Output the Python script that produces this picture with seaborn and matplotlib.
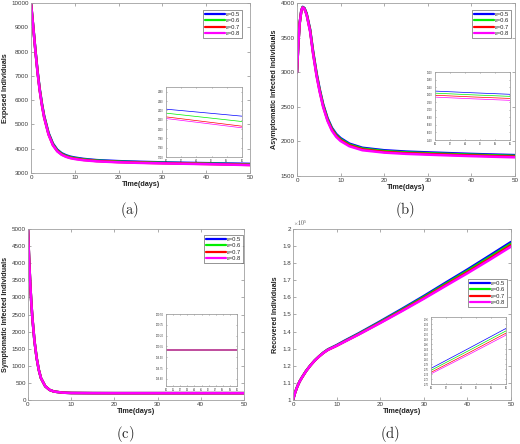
import pandas as pd
import matplotlib
matplotlib.use('Agg')
import matplotlib.pyplot as plt
import seaborn as sns
from matplotlib.ticker import FuncFormatter, MultipleLocator, MaxNLocator

# --- values ---
eps_labels = ['ε=0.5', 'ε=0.6', 'ε=0.7', 'ε=0.8']
line_colors = ['#0000ff', '#00ee00', '#ff0000', '#ff00ff']

# (a) exposed individuals
t_exposed = [0, 0.5, 1, 1.5, 2, 2.5, 3, 4, 5, 6, 7, 8, 9, 10, 12, 15, 20, 25, 30, 35, 40, 45, 50]
exposed_05 = [10000, 9055, 8080, 7190, 6450, 5855, 5355, 4655, 4215, 3960, 3815, 3730, 3672, 3635, 3580, 3530, 3488, 3460, 3438, 3420, 3405, 3390, 3375]
exposed_06 = [10000, 9045, 8060, 7165, 6420, 5825, 5325, 4625, 4185, 3935, 3790, 3705, 3650, 3612, 3560, 3510, 3468, 3442, 3420, 3403, 3388, 3370, 3352]
exposed_07 = [10000, 9035, 8040, 7140, 6395, 5795, 5295, 4595, 4155, 3905, 3765, 3680, 3625, 3590, 3540, 3492, 3450, 3425, 3404, 3388, 3372, 3352, 3332]
exposed_08 = [10000, 9030, 8030, 7130, 6380, 5780, 5280, 4580, 4140, 3890, 3750, 3665, 3610, 3575, 3525, 3480, 3440, 3415, 3395, 3380, 3365, 3345, 3325]

# (b) asymptomatic infected individuals
t_asym = [0, 0.3, 0.6, 1, 1.3, 1.7, 2.2, 3, 3.7, 4.5, 5.2, 6, 7, 8, 9, 10, 12, 15, 20, 25, 30, 35, 40, 45, 50]
asym_05 = [3000, 3402, 3704, 3896, 3944, 3928, 3850, 3620, 3298, 2982, 2757, 2537, 2337, 2197, 2107, 2047, 1968, 1908, 1872, 1853, 1841, 1830, 1819, 1810, 1802]
asym_06 = [3000, 3401, 3702, 3893, 3940, 3923, 3843, 3610, 3285, 2967, 2742, 2522, 2322, 2182, 2092, 2032, 1955, 1896, 1860, 1841, 1829, 1818, 1808, 1799, 1791]
asym_07 = [3000, 3400, 3700, 3890, 3936, 3918, 3836, 3600, 3272, 2953, 2728, 2508, 2308, 2168, 2078, 2018, 1942, 1884, 1848, 1830, 1818, 1807, 1797, 1788, 1780]
asym_08 = [3000, 3400, 3700, 3890, 3935, 3915, 3830, 3590, 3260, 2940, 2715, 2495, 2295, 2155, 2065, 2005, 1930, 1872, 1838, 1820, 1808, 1797, 1787, 1778, 1770]

# (c) symptomatic infected individuals (the four curves coincide)
t_sym = [0, 0.25, 0.5, 0.75, 1, 1.5, 2, 2.5, 3, 4, 5, 6, 8, 10, 15, 20, 30, 40, 50]
sym_all = [5000, 4150, 3450, 2880, 2420, 1720, 1230, 880, 640, 400, 295, 248, 215, 205, 201, 200, 200, 200, 200]

# (d) recovered individuals
t_rec = [0, 0.5, 1, 1.5, 2, 3, 4, 5, 6, 7, 8, 10, 12, 15, 20, 25, 30, 35, 40, 45, 50]
rec_05 = [100000, 104500, 108000, 110800, 113000, 117000, 120300, 123200, 125600, 127800, 129600, 132100, 134900, 138900, 146000, 153300, 160800, 168600, 176300, 184300, 192400]
rec_06 = [100000, 104500, 108000, 110800, 113000, 117000, 120300, 123200, 125600, 127700, 129500, 131900, 134600, 138600, 145600, 152800, 160200, 167900, 175500, 183400, 191400]
rec_07 = [100000, 104400, 107900, 110700, 112900, 116900, 120200, 123100, 125500, 127600, 129300, 131700, 134400, 138300, 145200, 152300, 159600, 167200, 174700, 182500, 190500]
rec_08 = [100000, 104400, 107900, 110700, 112900, 116900, 120200, 123100, 125500, 127600, 129300, 131700, 134300, 138200, 145000, 152000, 159200, 166700, 174100, 181800, 189700]


def to_frame(t, series):
    parts = [pd.DataFrame({'t': t, 'value': vals, 'eps': lab}) for lab, vals in zip(eps_labels, series)]
    return pd.concat(parts, ignore_index=True)


df_exp = to_frame(t_exposed, [exposed_05, exposed_06, exposed_07, exposed_08])
df_asym = to_frame(t_asym, [asym_05, asym_06, asym_07, asym_08])
df_sym = to_frame(t_sym, [sym_all, sym_all, sym_all, sym_all])
df_rec = to_frame(t_rec, [rec_05, rec_06, rec_07, rec_08])

sns.set_theme(style='ticks')
plt.rcParams['font.family'] = ['Liberation Sans', 'DejaVu Sans']
plt.rcParams['mathtext.fontset'] = 'cm'

palette = dict(zip(eps_labels, line_colors))
W, H = 520, 444
fig = plt.figure(figsize=(W / 100, H / 100), dpi=100)


def px_box(x0, y0, x1, y1):
    # pixel box (left, top, right, bottom) -> figure fraction rect
    return [x0 / W, 1 - y1 / H, (x1 - x0) / W, (y1 - y0) / H]


def style_frame(ax, labelsize, length):
    ax.tick_params(direction='in', length=length, width=0.5, labelsize=labelsize,
                   top=True, right=True, color='#8a8a8a', labelcolor='#3a3a3a', pad=1.5)
    for s in ax.spines.values():
        s.set_color('#a0a0a0')
        s.set_linewidth(0.6)


def main_panel(rect, df, ylabel, ylim, ystep, legend_xy):
    ax = fig.add_axes(rect)
    sns.lineplot(data=df, x='t', y='value', hue='eps', hue_order=eps_labels, palette=palette,
                 lw=1.8, estimator=None, sort=False, ax=ax)
    ax.set_xlim(0, 50)
    ax.set_ylim(*ylim)
    ax.xaxis.set_major_locator(MultipleLocator(10))
    ax.yaxis.set_major_locator(MultipleLocator(ystep))
    ax.set_xlabel('Time(days)', fontsize=5.2, fontweight='bold', labelpad=1, color='#222222')
    ax.set_ylabel(ylabel, fontsize=5.2, fontweight='bold', labelpad=2, color='#222222')
    style_frame(ax, 4.5, 2)
    handles, labels = ax.get_legend_handles_labels()
    leg = ax.legend(handles, labels, loc='upper right', bbox_to_anchor=(legend_xy[0] / W, 1 - legend_xy[1] / H),
                    bbox_transform=fig.transFigure, fontsize=4.2, handlelength=3.4, frameon=True,
                    fancybox=False, edgecolor='#444444', borderpad=0.35, labelspacing=0.2,
                    handletextpad=0.2, borderaxespad=0)
    leg.get_frame().set_linewidth(0.5)
    for line in leg.get_lines():
        line.set_linewidth(1.6)
    return ax


def inset_panel(rect, df, ylim, nx, ny):
    ax = fig.add_axes(rect)
    sns.lineplot(data=df, x='t', y='value', hue='eps', hue_order=eps_labels, palette=palette,
                 lw=0.5, estimator=None, sort=False, legend=False, ax=ax)
    ax.set_xlim(40, 50)
    ax.set_ylim(*ylim)
    ax.xaxis.set_major_locator(MaxNLocator(nx))
    ax.yaxis.set_major_locator(MaxNLocator(ny))
    ax.set_xlabel('')
    ax.set_ylabel('')
    style_frame(ax, 1.8, 1)
    return ax


ax_a = main_panel(px_box(31, 3, 250, 173), df_exp, 'Exposed Individuals', (3000, 10000), 1000, (242, 10))
ax_b = main_panel(px_box(297, 3, 515, 176), df_asym, 'Asymptomatic Infected Individuals', (1500, 4000), 500, (511, 10))
ax_c = main_panel(px_box(28, 229, 244, 400), df_sym, 'Symptomatic Infected Individuals', (0, 5000), 500, (243, 235))
ax_d = main_panel(px_box(293, 229, 511, 400), df_rec, 'Recovered Individuals', (100000, 200000), 10000, (507, 279))
ax_d.yaxis.set_major_formatter(FuncFormatter(lambda v, p: f'{v / 1e5:g}'))
ax_d.text(0.0, 1.005, r'$\times10^5$', transform=ax_d.transAxes, fontsize=4, va='bottom', color='#3a3a3a')

in_a = inset_panel(px_box(166, 87, 242, 157), df_exp, (3200, 3500), 6, 8)
in_b = inset_panel(px_box(435, 72, 510, 140), df_asym, (1560, 1920), 6, 10)
in_c = inset_panel(px_box(166, 314, 237, 386), df_sym, (199.5, 200.5), 11, 9)
in_d = inset_panel(px_box(431, 317, 506, 384), df_rec, (170000, 197000), 6, 14)
in_d.yaxis.set_major_formatter(FuncFormatter(lambda v, p: f'{v / 1e5:.2f}'))

# sub-figure captions
for label, (cx, cy) in zip(['(a)', '(b)', '(c)', '(d)'], [(130, 210), (405, 210), (125, 434), (390, 434)]):
    fig.text(cx / W, 1 - cy / H, r'$\mathrm{' + label + '}$', ha='center', va='center', fontsize=10.5)

plt.savefig('out.png', dpi=100)
